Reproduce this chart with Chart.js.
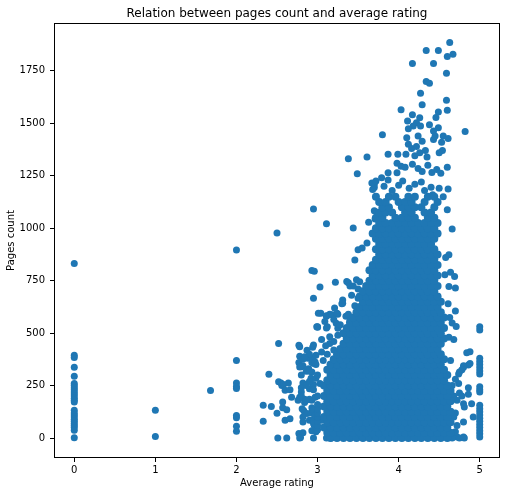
<!DOCTYPE html>
<html>
<head>
<meta charset="utf-8">
<script src="https://cdn.jsdelivr.net/npm/chart.js@4.4.0/dist/chart.umd.min.js"></script>
<style>
  html, body { margin: 0; padding: 0; background: #fff; }
  #wrap { width: 507px; height: 496px; }
</style>
</head>
<body>
<div id="wrap"><canvas id="chart" width="507" height="496"></canvas></div>
<script>
const chartTitle = 'Relation between pages count and average rating';
const xTitle = 'Average rating';
const yTitle = 'Pages count';
const xTicks = [0, 1, 2, 3, 4, 5];
const yTicks = [0, 250, 500, 750, 1000, 1250, 1500, 1750];

// scattered books, [average rating, pages count]
const scatterPoints = [
  // rating 0
  [0, 832], [0, 395], [0, 384], [0, 337], [0, 295], [0, 260], [0, 250], [0, 240], [0, 230], [0, 220],
  [0, 210], [0, 200], [0, 190], [0, 180], [0, 172], [0, 132], [0, 120], [0, 110], [0, 100], [0, 90],
  [0, 80], [0, 70], [0, 60], [0, 50], [0, 37], [0, 2],
  // rating 1 .. 2
  [1, 132], [1, 7], [1.68, 227],
  [2, 896], [2, 370], [2, 262], [2, 246], [2, 236], [2, 108], [2, 97], [2, 56], [2, 32],
  // 2.3 .. 3.1
  [2.50, 977], [2.95, 1092], [2.93, 798], [2.96, 795], [2.95, 666], [3.03, 720], [3.01, 595], [3.00, 528],
  [2.52, 451], [2.77, 442], [2.94, 433], [2.40, 304],
  [2.52, 268], [2.55, 262], [2.56, 250], [2.58, 255], [2.64, 263], [2.60, 228], [2.66, 230],
  [2.57, 172], [2.33, 156], [2.43, 151], [2.50, 118], [2.33, 80], [2.57, 145], [2.62, 135], [2.60, 85], [2.66, 92],
  [2.77, 360], [2.80, 340], [2.82, 345], [2.88, 380], [2.90, 385], [2.98, 395], [2.94, 380], [2.78, 390],
  [2.82, 375], [2.90, 400], [2.95, 355], [2.98, 350], [3.07, 370], [2.86, 318], [2.93, 315], [2.89, 330], [2.93, 360],
  [2.92, 285], [2.94, 245], [2.90, 235], [2.82, 262], [2.86, 250], [2.95, 255], [2.80, 220],
  [2.68, 195], [2.79, 195], [2.76, 180], [2.84, 170], [2.93, 180], [2.97, 195], [2.80, 200], [2.84, 185], [2.90, 185],
  [2.83, 130], [2.87, 117], [2.95, 137], [2.93, 145], [2.92, 120], [2.82, 77], [2.90, 85], [2.95, 90], [2.96, 60],
  [2.77, 22], [2.79, 3], [2.82, 25], [2.93, 35], [2.98, 30], [2.99, 37],
  [2.51, 0], [2.62, 0], [2.78, 0], [2.95, 0], [3.11, 0], [3.17, 0],
  [2.84, 387], [2.97, 363], [2.78, 339], [2.90, 318], [2.98, 285], [3.03, 260], [2.80, 300], [2.90, 270],
  [2.80, 240], [2.95, 230], [2.78, 195], [2.86, 180], [2.81, 140], [2.95, 135], [2.82, 100], [2.97, 110],
  [2.95, 70], [3.05, 85],
  [3.00, 40], [3.00, 60], [3.00, 80], [3.00, 100], [3.00, 120], [3.00, 140], [3.00, 160], [3.00, 200], [3.00, 300],
  // left of the main cloud, 3.0 .. 3.7
  [3.11, 1021], [3.44, 1001], [3.63, 1028], [3.71, 1044], [3.70, 1083], [3.70, 1194], [3.70, 1208], [3.68, 1184],
  [3.50, 897], [3.55, 906], [3.46, 849], [3.61, 929],
  [3.22, 743], [3.36, 746], [3.40, 725], [3.48, 754], [3.38, 740], [3.44, 725], [3.52, 745], [3.50, 710],
  [3.31, 658], [3.30, 640], [3.31, 643], [3.50, 666], [3.42, 680], [3.46, 630],
  [3.04, 595], [3.11, 580], [3.15, 590], [3.25, 590], [3.21, 620], [3.35, 580], [3.11, 583], [3.18, 588], [3.24, 595],
  [3.00, 531], [3.12, 531], [3.23, 547], [3.25, 523], [3.09, 555], [3.20, 565], [3.28, 540], [2.99, 530], [3.11, 525],
  [3.38, 590], [3.40, 560],
  [3.15, 483], [3.15, 451], [2.95, 443], [2.78, 435], [2.87, 419],
  [3.05, 470], [3.10, 440], [3.20, 460], [3.25, 490], [3.05, 410], [3.12, 400], [3.20, 420],
  // right of the main cloud
  [4.62, 873], [4.58, 860], [4.57, 778], [4.64, 790], [4.62, 722], [4.69, 770], [4.70, 715],
  [4.61, 640], [4.70, 605], [4.63, 575], [4.66, 548], [4.71, 532], [4.62, 480], [4.68, 470], [4.64, 370],
  [4.88, 411], [4.84, 406], [4.80, 338], [4.86, 348], [4.88, 355], [4.80, 345], [4.74, 305], [4.75, 315],
  [4.78, 325], [4.74, 260], [4.86, 240], [4.86, 209], [4.75, 215], [4.78, 200], [4.80, 164], [4.90, 163],
  [4.81, 148], [4.92, 100], [4.80, 77], [4.80, 5], [4.72, 5], [4.75, 0], [4.81, 0], [4.66, 0], [4.70, 30],
  [4.72, 60], [4.70, 120], [4.72, 180], [4.70, 280], [4.68, 100], [4.68, 200], [4.66, 250],
  // rating 5
  [5, 531], [5, 515], [5, 380], [5, 365], [5, 350], [5, 335], [5, 320], [5, 305], [5, 244], [5, 230], [5, 220],
  [5, 156], [5, 140], [5, 125], [5, 110], [5, 95], [5, 80], [5, 65], [5, 50], [5, 35], [5, 20], [5, 5],
  // long books
  [4.63, 1885], [4.34, 1847], [4.49, 1847], [4.67, 1829], [4.60, 1818], [4.17, 1785], [4.43, 1785], [4.59, 1739],
  [4.34, 1699], [4.38, 1691], [4.27, 1643], [4.59, 1610], [4.29, 1589], [4.03, 1565], [4.60, 1562], [4.17, 1541],
  [4.49, 1554], [4.46, 1528], [4.26, 1527], [4.11, 1511], [4.22, 1503], [4.18, 1487], [4.27, 1487], [4.38, 1493],
  [4.49, 1479], [4.12, 1474], [4.82, 1461], [3.80, 1446], [4.43, 1463], [4.55, 1439], [4.61, 1428], [4.10, 1431],
  [4.24, 1439], [4.29, 1415], [4.43, 1423],
  [3.38, 1331], [3.61, 1340], [3.49, 1260], [3.87, 1353], [3.99, 1353], [4.09, 1353], [3.79, 1240], [3.87, 1264],
  [3.98, 1264], [4.60, 1088], [4.61, 1187], [4.66, 996], [4.60, 1290],
  [4.12, 1400], [4.16, 1380], [4.22, 1390], [4.26, 1360], [4.33, 1370], [4.35, 1340], [4.20, 1345],
  [4.45, 1440], [4.53, 1410], [4.50, 1360], [4.54, 1370],
  [3.98, 1310], [4.03, 1295], [4.08, 1290], [4.17, 1305], [4.24, 1285], [4.29, 1270], [4.36, 1300], [4.41, 1265],
  [4.47, 1280], [4.52, 1262],
  [3.67, 1215], [3.72, 1225], [3.82, 1200], [3.87, 1230], [3.92, 1180], [4.00, 1205], [4.05, 1225], [4.13, 1190],
  [4.20, 1210], [4.28, 1220], [4.32, 1180], [4.40, 1195], [4.42, 1160], [4.50, 1190], [4.55, 1150]
];

// the solid cloud between 3.1 and 4.7: pages count of each row and the ratings in it
const densePages = [0, 25, 50, 75, 100, 125, 150, 175, 200, 225, 250, 275, 300, 325, 350, 375, 400, 425, 450, 475,
  500, 525, 550, 575, 600, 625, 650, 675, 700, 725, 750, 775, 800, 825, 850, 875, 900, 925, 950, 975,
  1000, 1025, 1050, 1075, 1100, 1125, 1150];
const denseRatings = [
  [3.16,3.24,3.32,3.40,3.48,3.56,3.64,3.72,3.80,3.88,3.96,4.04,4.12,4.20,4.28,4.36,4.44,4.52,4.60],
  [3.12,3.20,3.28,3.36,3.44,3.52,3.60,3.68,3.76,3.84,3.92,4.00,4.08,4.16,4.24,4.32,4.40,4.48,4.56,4.64],
  [3.08,3.16,3.24,3.32,3.40,3.48,3.56,3.64,3.72,3.80,3.88,3.96,4.04,4.12,4.20,4.28,4.36,4.44,4.52,4.60],
  [3.12,3.20,3.28,3.36,3.44,3.52,3.60,3.68,3.76,3.84,3.92,4.00,4.08,4.16,4.24,4.32,4.40,4.48,4.56,4.64],
  [3.08,3.16,3.24,3.32,3.40,3.48,3.56,3.64,3.72,3.80,3.88,3.96,4.04,4.12,4.20,4.28,4.36,4.44,4.52,4.60],
  [3.12,3.20,3.28,3.36,3.44,3.52,3.60,3.68,3.76,3.84,3.92,4.00,4.08,4.16,4.24,4.32,4.40,4.48,4.56,4.64],
  [3.08,3.16,3.24,3.32,3.40,3.48,3.56,3.64,3.72,3.80,3.88,3.96,4.04,4.12,4.20,4.28,4.36,4.44,4.52,4.60],
  [3.12,3.20,3.28,3.36,3.44,3.52,3.60,3.68,3.76,3.84,3.92,4.00,4.08,4.16,4.24,4.32,4.40,4.48,4.56,4.64],
  [3.08,3.16,3.24,3.32,3.40,3.48,3.56,3.64,3.72,3.80,3.88,3.96,4.04,4.12,4.20,4.28,4.36,4.44,4.52,4.60],
  [3.12,3.20,3.28,3.36,3.44,3.52,3.60,3.68,3.76,3.84,3.92,4.00,4.08,4.16,4.24,4.32,4.40,4.48,4.56,4.64],
  [3.08,3.16,3.24,3.32,3.40,3.48,3.56,3.64,3.72,3.80,3.88,3.96,4.04,4.12,4.20,4.28,4.36,4.44,4.52,4.60],
  [3.12,3.20,3.28,3.36,3.44,3.52,3.60,3.68,3.76,3.84,3.92,4.00,4.08,4.16,4.24,4.32,4.40,4.48,4.56],
  [3.16,3.24,3.32,3.40,3.48,3.56,3.64,3.72,3.80,3.88,3.96,4.04,4.12,4.20,4.28,4.36,4.44,4.52,4.60],
  [3.12,3.20,3.28,3.36,3.44,3.52,3.60,3.68,3.76,3.84,3.92,4.00,4.08,4.16,4.24,4.32,4.40,4.48,4.56],
  [3.16,3.24,3.32,3.40,3.48,3.56,3.64,3.72,3.80,3.88,3.96,4.04,4.12,4.20,4.28,4.36,4.44,4.52],
  [3.20,3.28,3.36,3.44,3.52,3.60,3.68,3.76,3.84,3.92,4.00,4.08,4.16,4.24,4.32,4.40,4.48,4.56],
  [3.24,3.32,3.40,3.48,3.56,3.64,3.72,3.80,3.88,3.96,4.04,4.12,4.20,4.28,4.36,4.44,4.52],
  [3.28,3.36,3.44,3.52,3.60,3.68,3.76,3.84,3.92,4.00,4.08,4.16,4.24,4.32,4.40,4.48],
  [3.32,3.40,3.48,3.56,3.64,3.72,3.80,3.88,3.96,4.04,4.12,4.20,4.28,4.36,4.44,4.52],
  [3.36,3.44,3.52,3.60,3.68,3.76,3.84,3.92,4.00,4.08,4.16,4.24,4.32,4.40,4.48,4.56],
  [3.32,3.40,3.48,3.56,3.64,3.72,3.80,3.88,3.96,4.04,4.12,4.20,4.28,4.36,4.44,4.52],
  [3.36,3.44,3.52,3.60,3.68,3.76,3.84,3.92,4.00,4.08,4.16,4.24,4.32,4.40,4.48,4.56],
  [3.40,3.48,3.56,3.64,3.72,3.80,3.88,3.96,4.04,4.12,4.20,4.28,4.36,4.44,4.52],
  [3.44,3.52,3.60,3.68,3.76,3.84,3.92,4.00,4.08,4.16,4.24,4.32,4.40,4.48,4.56],
  [3.48,3.56,3.64,3.72,3.80,3.88,3.96,4.04,4.12,4.20,4.28,4.36,4.44,4.52],
  [3.52,3.60,3.68,3.76,3.84,3.92,4.00,4.08,4.16,4.24,4.32,4.40,4.48],
  [3.56,3.64,3.72,3.80,3.88,3.96,4.04,4.12,4.20,4.28,4.36,4.44,4.52],
  [3.52,3.60,3.68,3.76,3.84,3.92,4.00,4.08,4.16,4.24,4.32,4.40,4.48],
  [3.56,3.64,3.72,3.80,3.88,3.96,4.04,4.12,4.20,4.28,4.36,4.44],
  [3.60,3.68,3.76,3.84,3.92,4.00,4.08,4.16,4.24,4.32,4.40,4.48],
  [3.64,3.72,3.80,3.88,3.96,4.04,4.12,4.20,4.28,4.36,4.44],
  [3.68,3.76,3.84,3.92,4.00,4.08,4.16,4.24,4.32,4.40,4.48],
  [3.64,3.72,3.80,3.88,3.96,4.04,4.12,4.20,4.28,4.36,4.44],
  [3.68,3.76,3.84,3.92,4.00,4.08,4.16,4.24,4.32,4.40,4.48],
  [3.72,3.80,3.88,3.96,4.04,4.12,4.20,4.28,4.36,4.44],
  [3.76,3.84,3.92,4.00,4.08,4.16,4.24,4.32,4.40,4.48],
  [3.72,3.80,3.88,3.96,4.04,4.12,4.20,4.28,4.36,4.44],
  [3.76,3.84,3.92,4.00,4.08,4.16,4.24,4.32,4.40],
  [3.72,3.80,3.88,3.96,4.04,4.12,4.20,4.28,4.36,4.44],
  [3.68,3.76,3.84,3.92,4.00,4.08,4.16,4.24,4.32,4.40,4.48],
  [3.72,3.80,3.88,3.96,4.04,4.12,4.20,4.28,4.36,4.44],
  [3.76,3.84,3.92,4.00,4.08,4.16,4.24,4.32,4.40,4.48],
  [3.72,3.80,3.96,4.04,4.12,4.20,4.36,4.44],
  [3.76,3.84,3.92,4.08,4.16,4.32,4.40],
  [3.80,3.88,4.04,4.12,4.20,4.28,4.44],
  [3.76,3.84,4.00,4.08,4.16,4.32,4.48],
  [3.72,3.88,3.96,4.12,4.20,4.36,4.44]
];

const loosePoints = scatterPoints.map(p => ({ x: p[0], y: p[1] }));
const cloudPoints = [];
densePages.forEach((pages, i) => {
  denseRatings[i].forEach(r => cloudPoints.push({ x: r, y: pages }));
});

const font = { family: 'DejaVu Sans', size: 10 };
const dotColor = '#1f77b4';

// matplotlib style box and title
const frame = {
  id: 'frame',
  afterDatasetsDraw(chart) {
    const a = chart.chartArea;
    const ctx = chart.ctx;
    ctx.save();
    ctx.strokeStyle = '#000';
    ctx.lineWidth = 1;
    ctx.strokeRect(a.left + 0.5, a.top + 0.5, a.right - a.left - 1, a.bottom - a.top - 1);
    ctx.fillStyle = '#000';
    ctx.font = '12px "DejaVu Sans"';
    ctx.textAlign = 'center';
    ctx.textBaseline = 'alphabetic';
    ctx.fillText(chartTitle, (a.left + a.right) / 2, 17);
    ctx.restore();
  }
};

new Chart(document.getElementById('chart'), {
  type: 'scatter',
  data: {
    datasets: [{
      data: cloudPoints,
      backgroundColor: dotColor,
      borderColor: dotColor,
      pointRadius: 4,
      pointHoverRadius: 4,
      pointBorderWidth: 0
    }, {
      data: loosePoints,
      backgroundColor: dotColor,
      borderColor: dotColor,
      pointRadius: 3.5,
      pointHoverRadius: 3.5,
      pointBorderWidth: 0
    }]
  },
  options: {
    responsive: false,
    devicePixelRatio: 1,
    animation: false,
    layout: { padding: { top: 23, right: 7, left: 0, bottom: 0 } },
    plugins: {
      legend: { display: false },
      tooltip: { enabled: false },
      title: { display: false }
    },
    scales: {
      x: {
        type: 'linear',
        min: -0.25,
        max: 5.25,
        afterBuildTicks: s => { s.ticks = xTicks.map(v => ({ value: v })); },
        afterFit: s => { s.height = 38; },
        grid: { drawOnChartArea: false, drawTicks: true, tickLength: 4, color: '#000' },
        border: { display: false },
        ticks: { color: '#000', font: font, padding: 2, maxRotation: 0, autoSkip: false, callback: v => String(v) },
        title: { display: true, text: xTitle, color: '#000', font: font, padding: { top: 0, bottom: 7 } }
      },
      y: {
        type: 'linear',
        min: -95,
        max: 1978,
        afterBuildTicks: s => { s.ticks = yTicks.map(v => ({ value: v })); },
        afterFit: s => { s.width = 54; },
        grid: { drawOnChartArea: false, drawTicks: true, tickLength: 4, color: '#000' },
        border: { display: false },
        ticks: { color: '#000', font: font, padding: 5, autoSkip: false, callback: v => String(v) },
        title: { display: true, text: yTitle, color: '#000', font: font, padding: { top: 5, bottom: 0 } }
      }
    }
  },
  plugins: [frame]
});
</script>
</body>
</html>
